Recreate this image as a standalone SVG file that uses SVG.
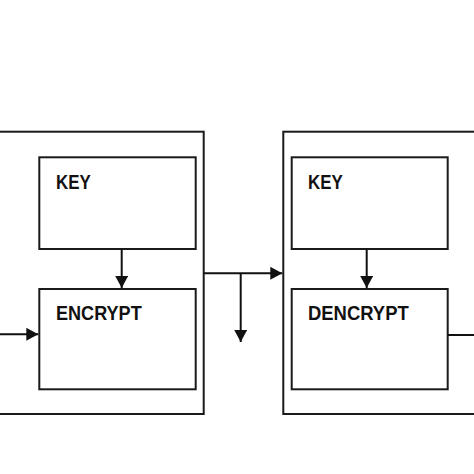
<svg xmlns="http://www.w3.org/2000/svg" width="474" height="474" viewBox="0 0 474 474">
<style>
rect{fill:none;stroke:#1a1a1a;stroke-width:2}
.c{fill:none;stroke:#111;stroke-width:2}
text{font-family:"Liberation Sans",Arial,sans-serif;font-weight:bold;font-size:20px;fill:#111}
</style>
<defs>
<marker id="ah" markerUnits="userSpaceOnUse" markerWidth="13" markerHeight="13" refX="12" refY="6.5" orient="auto">
<path d="M0,0 L12,6.5 L0,13 Z" fill="#111"/>
</marker>
</defs>
<rect width="474" height="474" fill="#fff" stroke="none" style="fill:#fff;stroke:none"/>
<g id="sender"><rect x="-10" y="131.7" width="213.7" height="282.3"/></g>
<g id="receiver"><rect x="283.3" y="131.7" width="210" height="282.3"/></g>
<g id="key1"><rect x="39.3" y="157.3" width="156.4" height="91.7"/><text x="56" y="188.5" textLength="34.7" lengthAdjust="spacingAndGlyphs">KEY</text></g>
<g id="encrypt"><rect x="39.3" y="289" width="156.4" height="100.3"/><text x="56" y="319.5" textLength="85.7" lengthAdjust="spacingAndGlyphs">ENCRYPT</text></g>
<g id="key2"><rect x="291.7" y="157.3" width="156" height="91.7"/><text x="308" y="188.5" textLength="34.7" lengthAdjust="spacingAndGlyphs">KEY</text></g>
<g id="dencrypt"><rect x="291.7" y="289" width="156" height="100.3"/><text x="308" y="319.5" textLength="100.7" lengthAdjust="spacingAndGlyphs">DENCRYPT</text></g>
<g id="connectors">
<line class="c" x1="121.7" y1="249" x2="121.7" y2="288" marker-end="url(#ah)"/>
<line class="c" x1="366.7" y1="249" x2="366.7" y2="288" marker-end="url(#ah)"/>
<line class="c" x1="0" y1="334.3" x2="38.3" y2="334.3" marker-end="url(#ah)"/>
<line class="c" x1="203.7" y1="273.3" x2="282.3" y2="273.3" marker-end="url(#ah)"/>
<line class="c" x1="240.7" y1="273.3" x2="240.7" y2="342" marker-end="url(#ah)"/>
<line class="c" x1="447.7" y1="335" x2="474" y2="335"/>
</g>
</svg>
